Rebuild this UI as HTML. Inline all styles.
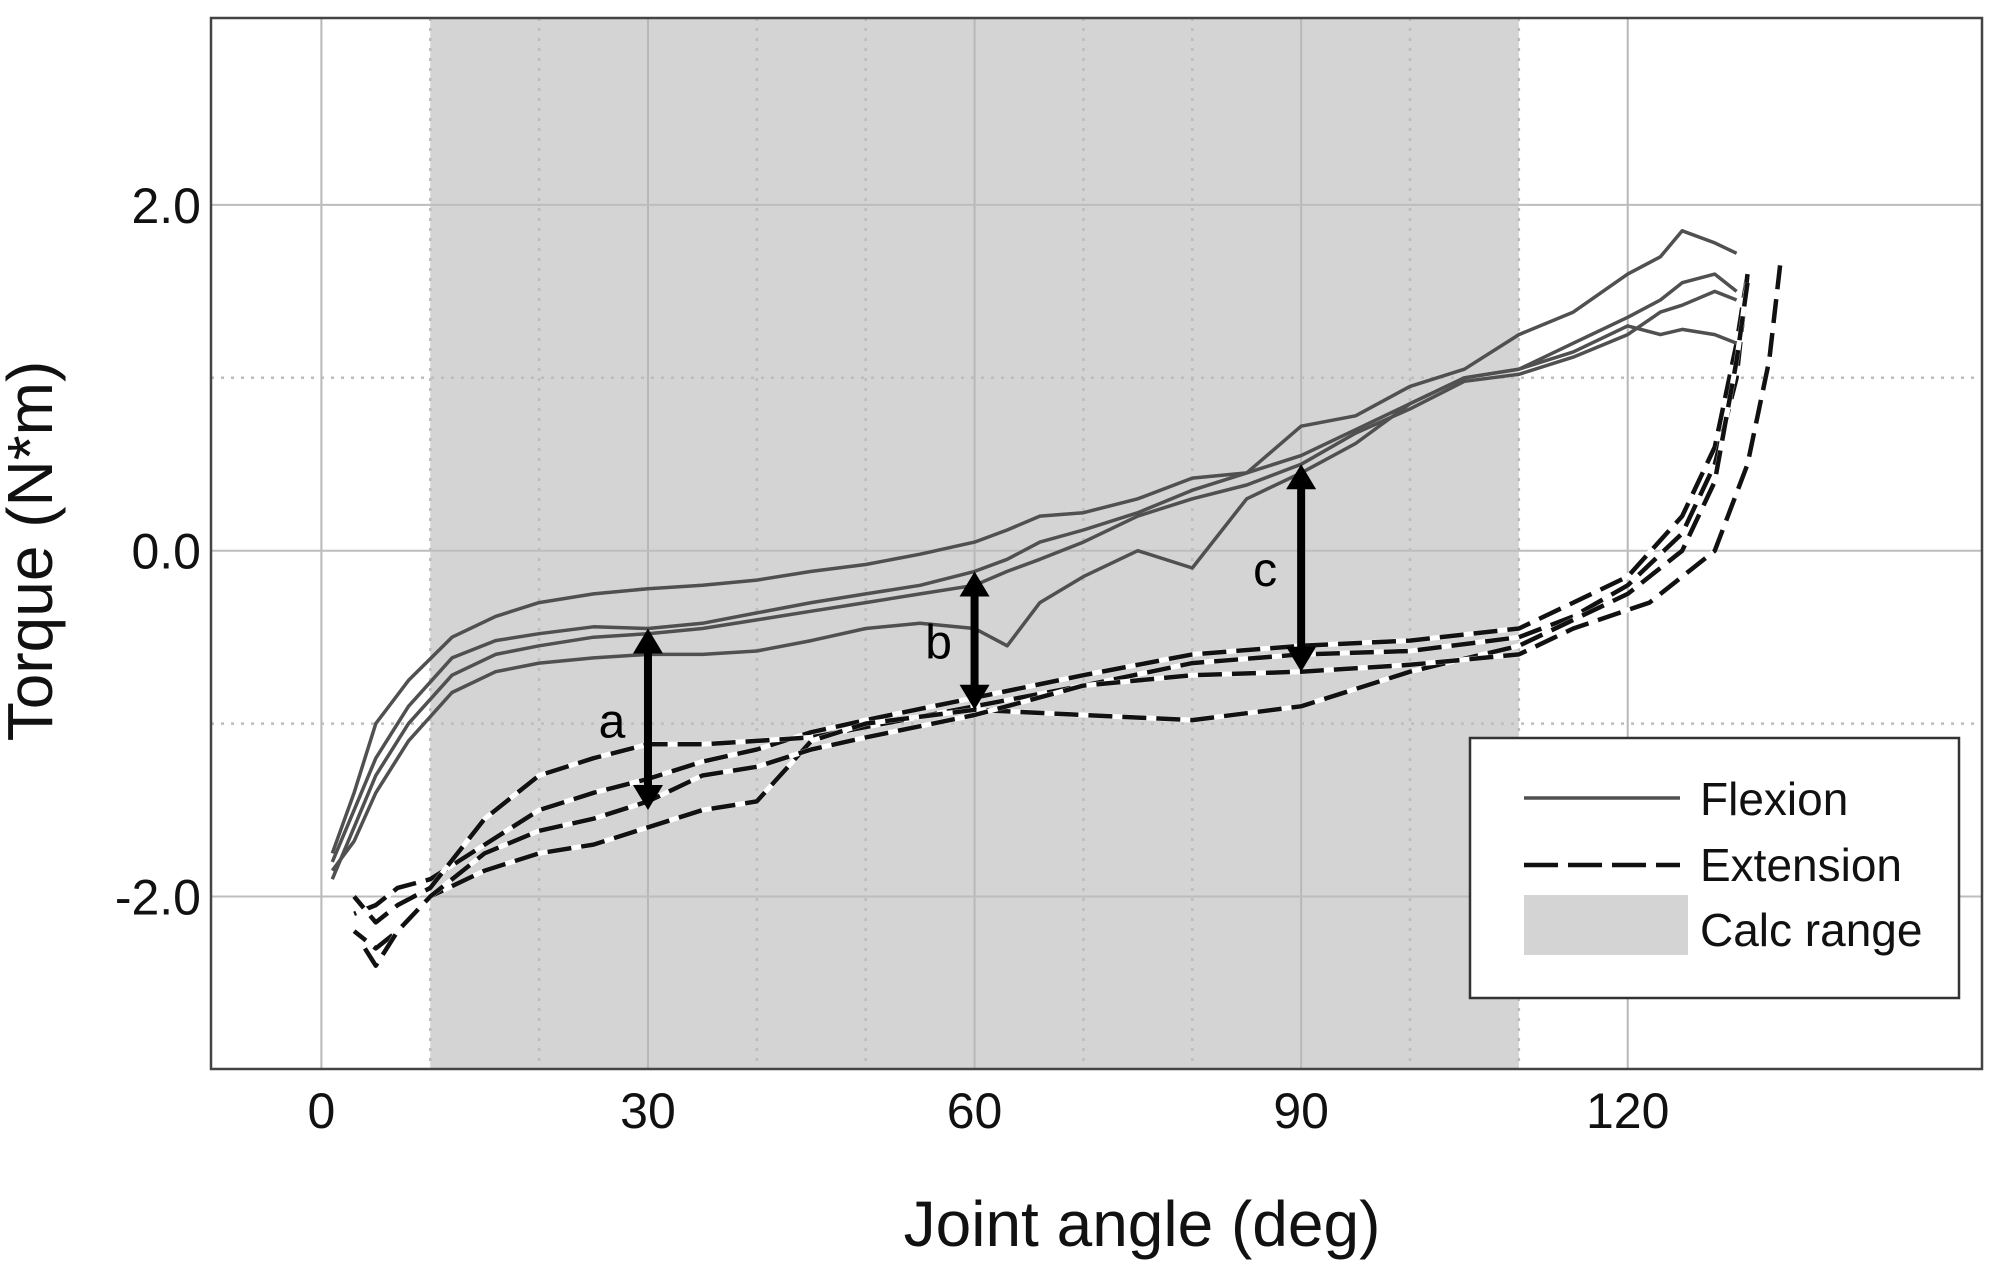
<!DOCTYPE html>
<html><head><meta charset="utf-8"><style>
html,body{margin:0;padding:0;background:#fff;}
svg{display:block;font-family:"Liberation Sans","DejaVu Sans",sans-serif;}
</style></head><body>
<svg id="chart" width="2008" height="1268" viewBox="0 0 2008 1268"></svg>
<script>
const xTicks=[0,30,60,90,120];
const yTicks=[-2,0,2];
const yTickLabels=["-2.0","0.0","2.0"];
const calcRange=[10,110];
const flexAngles=[1,3,5,8,12,16,20,25,30,35,40,45,50,55,60,63,66,70,75,80,85,90,95,100,105,110,115,120,123,125,128,130];
const flex1=[-1.75,-1.4,-1.0,-0.75,-0.5,-0.38,-0.3,-0.25,-0.22,-0.2,-0.17,-0.12,-0.08,-0.02,0.05,0.12,0.2,0.22,0.3,0.42,0.45,0.72,0.78,0.95,1.05,1.25,1.38,1.6,1.7,1.85,1.78,1.72];
const flex2=[-1.8,-1.5,-1.2,-0.9,-0.62,-0.52,-0.48,-0.44,-0.45,-0.42,-0.36,-0.3,-0.25,-0.2,-0.12,-0.05,0.05,0.12,0.22,0.35,0.45,0.55,0.7,0.85,1.0,1.05,1.2,1.35,1.45,1.55,1.6,1.5];
const flex3=[-1.9,-1.6,-1.3,-1.0,-0.72,-0.6,-0.55,-0.5,-0.48,-0.45,-0.4,-0.35,-0.3,-0.25,-0.2,-0.12,-0.05,0.05,0.2,0.3,0.38,0.5,0.68,0.82,0.98,1.02,1.12,1.25,1.38,1.42,1.5,1.45];
const flex4=[-1.85,-1.68,-1.4,-1.1,-0.82,-0.7,-0.65,-0.62,-0.6,-0.6,-0.58,-0.52,-0.45,-0.42,-0.45,-0.55,-0.3,-0.15,0.0,-0.1,0.3,0.45,0.62,0.85,1.0,1.05,1.15,1.3,1.25,1.28,1.25,1.2];
const extAngles=[131,130,128,125,120,115,110,100,90,80,70,60,50,45,40,35,30,25,20,15,10,7,5,3];
const ext4Angles=[134,133,131,128,122,115,110,100,90,80,70,60,50,45,40,35,30,25,20,15,10,7,5,4];
const ext1=[1.6,1.2,0.6,0.2,-0.15,-0.3,-0.45,-0.52,-0.55,-0.6,-0.72,-0.85,-0.98,-1.05,-1.15,-1.22,-1.32,-1.4,-1.5,-1.7,-1.9,-1.95,-2.05,-2.1];
const ext2=[1.6,1.0,0.5,0.1,-0.2,-0.38,-0.5,-0.58,-0.6,-0.65,-0.78,-0.9,-1.02,-1.08,-1.1,-1.12,-1.12,-1.2,-1.3,-1.55,-1.95,-2.05,-2.15,-2.0];
const ext3=[1.55,1.1,0.4,0.0,-0.25,-0.4,-0.55,-0.7,-0.9,-0.98,-0.95,-0.92,-1.0,-1.1,-1.45,-1.5,-1.6,-1.7,-1.75,-1.85,-2.0,-2.2,-2.3,-2.2];
const ext4=[1.65,1.1,0.5,0.0,-0.3,-0.45,-0.6,-0.66,-0.7,-0.72,-0.78,-0.95,-1.08,-1.15,-1.25,-1.3,-1.45,-1.55,-1.62,-1.75,-2.0,-2.2,-2.4,-2.3];
const arrowAngles=[30,60,90];
const arrowTops=[-0.45,-0.12,0.5];
const arrowBottoms=[-1.5,-0.92,-0.7];
const arrowLabels=["a","b","c"];

const svg=document.getElementById('chart');
const NS='http://www.w3.org/2000/svg';
const L=211,T=18,R=1982,B=1069;
const X=a=>321.4+a*10.886;
const Y=v=>550.7-v*172.9;
function mk(tag,attrs,parent){const e=document.createElementNS(NS,tag);for(const k in attrs)e.setAttribute(k,attrs[k]);(parent||svg).appendChild(e);return e;}

const frame=mk('rect',{x:L,y:T,width:R-L,height:B-T,fill:'#fff',stroke:'none'});


const band=mk('rect',{x:X(calcRange[0]),y:T,width:X(calcRange[1])-X(calcRange[0]),height:B-T,fill:'#d4d4d4'});


for(let a=0;a<=120;a+=10){
  const solid=a%30===0;
  const g=mk('line',{x1:X(a),x2:X(a),y1:T,y2:B,stroke:solid?'#b8b8b8':'#bdbdbd','stroke-width':solid?2:2.5,'stroke-dasharray':solid?'none':'3,7'});
  
  
}
for(let v=-2;v<=2;v++){
  const solid=v%2===0;
  const g=mk('line',{x1:L,x2:R,y1:Y(v),y2:Y(v),stroke:'#bdbdbd','stroke-width':solid?2:2.5,'stroke-dasharray':solid?'none':'3,7'});
  
  
}
const border=mk('rect',{x:L,y:T,width:R-L,height:B-T,fill:'none',stroke:'#444','stroke-width':2.5});



function path(xs,ys){return xs.map((a,i)=>(i?'L':'M')+X(a).toFixed(1)+','+Y(ys[i]).toFixed(1)).join(' ');}
[ext1,ext2,ext3,ext4].forEach((s,i)=>{
  const ang=i===3?ext4Angles:extAngles;
  const w=mk('path',{d:path(ang,s),fill:'none',stroke:'#fff','stroke-width':5,'stroke-linejoin':'round'});
  
  
  const p=mk('path',{d:path(ang,s),fill:'none',stroke:'#111','stroke-width':4.5,'stroke-dasharray':'24,10','stroke-linejoin':'round'});
  
  
});
[flex1,flex2,flex3,flex4].forEach((s,i)=>{
  const p=mk('path',{d:path(flexAngles,s),fill:'none',stroke:'#505050','stroke-width':3.5,'stroke-linejoin':'round'});
  
  
});
arrowAngles.forEach((a,i)=>{
  const x=X(a),y1=Y(arrowTops[i]),y2=Y(arrowBottoms[i]);
  const g=mk('g',{});
  
  
  mk('line',{x1:x,x2:x,y1:y1+20,y2:y2-20,stroke:'#000','stroke-width':8},g);
  mk('polygon',{points:`${x},${y1} ${x-15},${y1+25} ${x+15},${y1+25}`,fill:'#000'},g);
  mk('polygon',{points:`${x},${y2} ${x-15},${y2-25} ${x+15},${y2-25}`,fill:'#000'},g);
  const t=mk('text',{x:x-36,y:(y1+y2)/2+18,'font-size':48,'text-anchor':'middle',fill:'#000'});
  t.textContent=arrowLabels[i];
  
  
});
xTicks.forEach(a=>{
  const t=mk('text',{x:X(a),y:1128,'font-size':50,'text-anchor':'middle',fill:'#111'});
  t.textContent=a;
  
  
});
yTicks.forEach((v,i)=>{
  const t=mk('text',{x:201,y:Y(v)+18,'font-size':50,'text-anchor':'end',fill:'#111'});
  t.textContent=yTickLabels[i];
  
  
});
const xt=mk('text',{x:1142,y:1246,'font-size':64,'text-anchor':'middle',fill:'#111'});
xt.textContent='Joint angle (deg)';


const yt=mk('text',{x:0,y:0,'font-size':64,'text-anchor':'middle',fill:'#111',transform:'translate(52,551) rotate(-90)'});
yt.textContent='Torque (N*m)';


const lg=mk('g',{});


mk('rect',{x:1470,y:738,width:489,height:260,fill:'#fff',stroke:'#333','stroke-width':2.5},lg);
const e1=mk('g',{},lg);


mk('line',{x1:1524,x2:1680,y1:798,y2:798,stroke:'#505050','stroke-width':3.5},e1);
const t1=mk('text',{x:1700,y:815,'font-size':46,fill:'#111'},e1);t1.textContent='Flexion';
const e2=mk('g',{},lg);


mk('line',{x1:1524,x2:1680,y1:865,y2:865,stroke:'#111','stroke-width':4.5,'stroke-dasharray':'34,10'},e2);
const t2=mk('text',{x:1700,y:881,'font-size':46,fill:'#111'},e2);t2.textContent='Extension';
const e3=mk('g',{},lg);


mk('rect',{x:1524,y:895,width:164,height:60,fill:'#d4d4d4'},e3);
const t3=mk('text',{x:1700,y:946,'font-size':46,fill:'#111'},e3);t3.textContent='Calc range';
</script>
</body></html>
